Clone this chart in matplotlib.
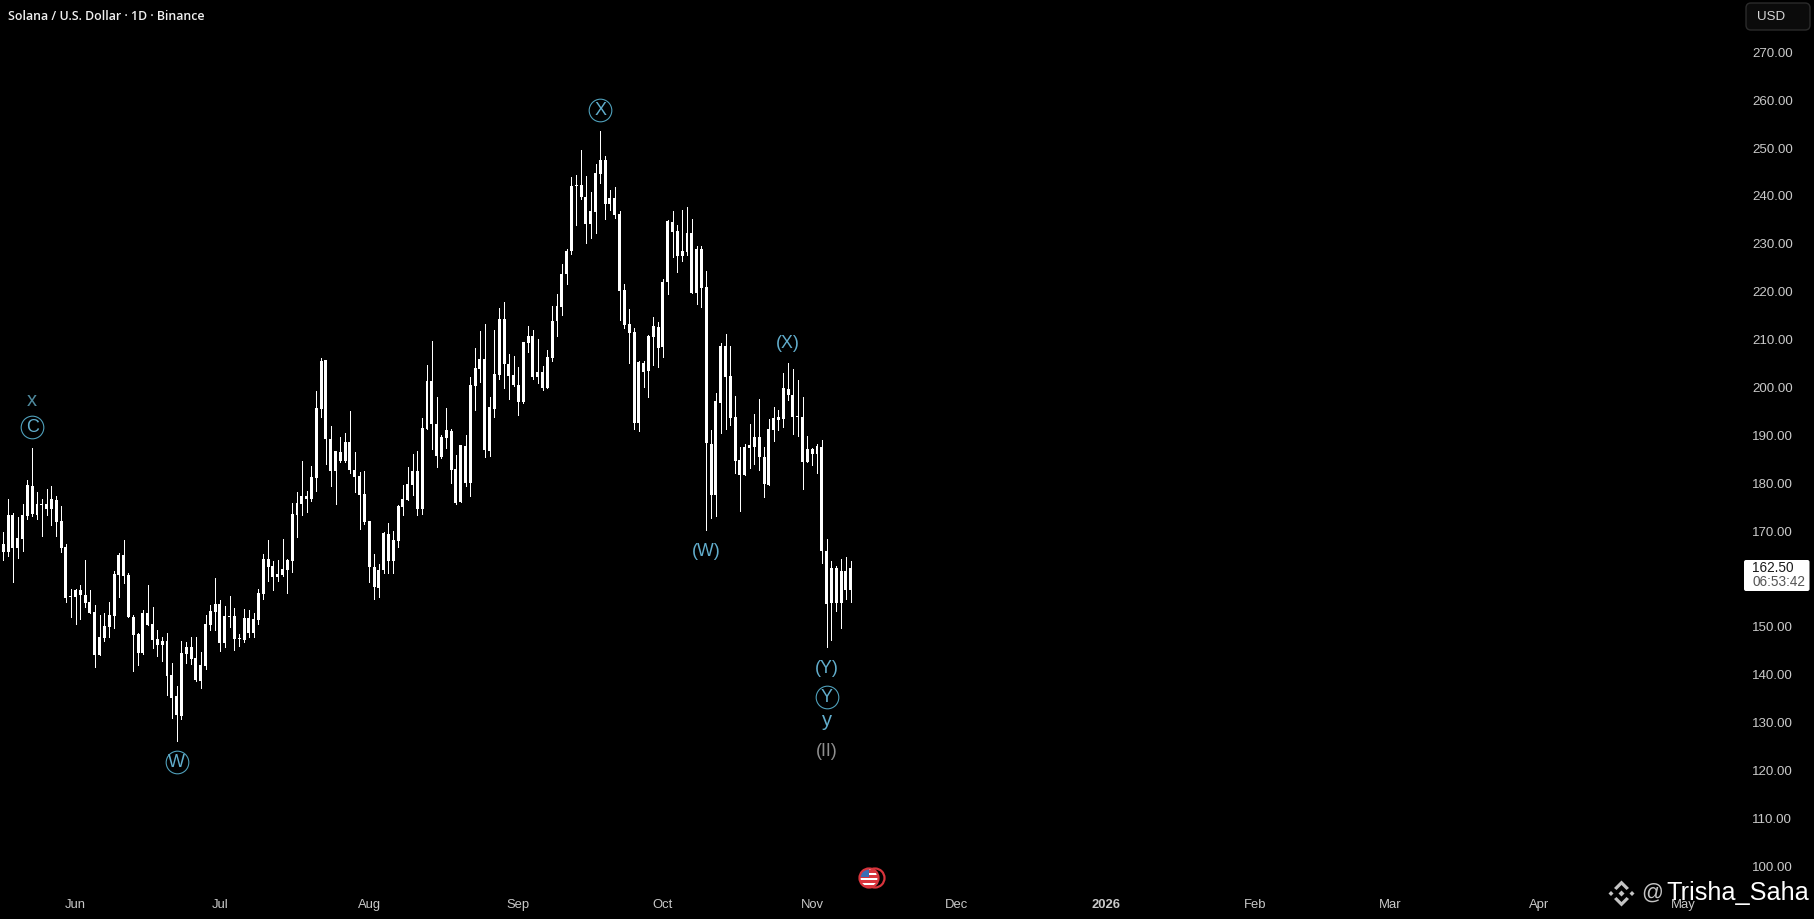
import matplotlib

matplotlib.use("Agg")
import matplotlib.pyplot as plt
import pandas as pd
from matplotlib.patches import Circle, FancyBboxPatch, Polygon, Rectangle

plt.rcParams["font.family"] = ["Liberation Sans", "DejaVu Sans"]

BG = "#000000"
WAVE = "#62aecd"
TICK_COLOR = "#c9c9c9"

FIRST_DAY = "2025-05-17"

highs = [
    169.8, 176.7, 173.8, 172.9, 175.7, 180.7, 187.4, 178.2, 176.7, 178.8, 179.4, 177.3, 175.2, 167.3, 157.9,
    157.9, 158.7, 164.0, 157.7, 154.6, 152.5, 152.9, 155.2, 161.7, 165.4, 168.1, 161.2, 152.5, 148.7, 153.5,
    158.7, 154.2, 149.4, 147.9, 148.7, 142.5, 137.6, 147.1, 146.8, 147.9, 147.9, 144.8, 152.5, 154.6, 160.2,
    155.6, 154.4, 156.4, 153.9, 148.5, 153.7, 153.5, 152.9, 157.9, 165.2, 168.1, 163.8, 164.0, 168.3, 164.2,
    175.9, 178.2, 184.7, 178.4, 183.6, 199.3, 206.2, 205.7, 192.0, 186.7, 189.7, 190.5, 195.1, 186.5, 182.4,
    182.6, 172.1, 165.2, 163.1, 169.8, 171.7, 170.0, 175.5, 179.6, 183.4, 186.1, 186.7, 193.6, 204.7, 209.7,
    198.0, 190.1, 195.7, 191.3, 185.9, 188.0, 190.1, 202.2, 208.2, 211.8, 213.3, 198.0, 212.0, 216.6, 217.9,
    207.0, 206.6, 204.3, 209.5, 212.8, 212.0, 210.1, 204.5, 207.8, 217.0, 219.5, 225.8, 228.9, 244.0, 244.4,
    249.6, 244.2, 240.8, 246.7, 253.6, 248.3, 241.3, 241.9, 236.9, 221.6, 216.4, 212.4, 205.5, 205.5, 211.0,
    214.7, 213.7, 222.7, 235.0, 236.9, 233.9, 237.1, 237.7, 235.2, 229.6, 229.6, 224.3, 191.1, 198.9, 209.3,
    211.2, 208.7, 198.2, 187.6, 188.2, 192.4, 194.5, 197.6, 187.6, 193.4, 196.0, 195.3, 203.0, 205.1, 203.9,
    201.6, 198.0, 189.9, 187.4, 188.2, 189.0, 168.4, 163.8, 162.7, 164.2, 164.6, 163.8,
]
body_tops = [
    167.3, 173.4, 173.4, 168.6, 173.4, 179.6, 179.4, 175.7, 175.7, 175.7, 176.7, 176.5, 172.1, 166.7, 156.4,
    157.7, 157.7, 156.7, 155.2, 153.1, 147.9, 150.2, 152.5, 161.0, 165.0, 165.0, 160.8, 152.1, 148.5, 152.9,
    152.9, 150.6, 147.5, 147.1, 147.1, 140.0, 135.6, 144.5, 145.8, 145.8, 143.5, 142.0, 150.6, 153.3, 154.8,
    154.8, 152.3, 152.3, 152.3, 147.7, 151.9, 151.9, 151.6, 157.1, 164.2, 164.2, 162.7, 161.0, 162.1, 164.0,
    173.6, 175.9, 177.3, 177.3, 181.3, 195.7, 205.5, 205.7, 189.2, 186.7, 186.5, 188.6, 188.6, 182.8, 181.5,
    177.8, 172.1, 162.5, 161.9, 169.6, 169.4, 168.2, 175.3, 176.7, 179.9, 182.6, 182.6, 191.5, 201.4, 201.4,
    192.4, 189.7, 191.1, 190.9, 183.0, 188.0, 187.8, 200.5, 204.1, 206.0, 206.0, 195.9, 202.8, 214.3, 214.3,
    204.9, 202.6, 200.5, 209.5, 210.8, 210.8, 203.2, 203.2, 206.4, 213.9, 217.0, 223.7, 228.5, 242.1, 242.3,
    242.3, 239.8, 236.9, 244.8, 247.5, 247.5, 239.6, 239.6, 236.2, 220.4, 213.3, 211.6, 205.3, 205.1, 210.8,
    212.9, 212.6, 222.0, 234.8, 234.6, 232.7, 228.5, 232.3, 232.3, 228.9, 228.9, 221.0, 188.2, 197.2, 208.7,
    208.7, 202.4, 193.9, 184.9, 187.6, 188.0, 189.7, 189.7, 185.5, 191.3, 193.6, 193.9, 199.9, 199.7, 198.4,
    194.1, 193.9, 187.2, 187.2, 187.8, 187.6, 165.9, 162.3, 162.3, 161.7, 161.7, 162.3,
]
body_bottoms = [
    165.6, 165.6, 166.5, 166.5, 168.3, 173.1, 173.6, 173.4, 175.5, 174.6, 174.6, 171.9, 166.5, 156.0, 156.2,
    156.2, 156.7, 155.0, 152.9, 144.1, 144.1, 147.7, 150.0, 152.3, 160.8, 160.6, 152.1, 148.3, 144.5, 144.5,
    150.4, 147.3, 146.2, 146.2, 139.7, 135.2, 131.6, 131.4, 144.3, 143.3, 138.9, 138.7, 141.8, 150.4, 153.1,
    146.6, 146.6, 152.1, 147.5, 147.5, 147.3, 148.7, 148.7, 151.4, 156.9, 162.5, 160.4, 160.4, 160.8, 161.9,
    163.8, 173.4, 175.7, 176.7, 176.7, 181.1, 195.5, 189.2, 182.6, 182.6, 184.7, 184.7, 182.8, 181.3, 177.6,
    171.9, 162.5, 158.3, 158.1, 161.9, 163.8, 163.8, 167.9, 175.0, 176.5, 179.6, 174.6, 174.6, 191.3, 192.4,
    185.7, 185.5, 189.5, 182.8, 175.9, 176.1, 180.1, 180.1, 200.3, 203.9, 187.0, 186.7, 195.5, 202.6, 204.9,
    202.4, 200.5, 197.0, 197.0, 209.3, 202.2, 202.2, 199.9, 199.9, 206.2, 213.9, 216.8, 223.7, 228.5, 242.1,
    239.8, 234.2, 234.2, 236.7, 244.6, 238.3, 238.3, 236.0, 220.2, 213.1, 211.4, 192.6, 192.6, 203.2, 203.5,
    210.6, 208.3, 208.5, 222.0, 232.5, 227.5, 227.5, 228.3, 219.7, 219.7, 220.8, 188.4, 177.6, 177.6, 196.8,
    202.2, 193.6, 184.7, 181.7, 181.7, 187.4, 187.6, 185.5, 179.9, 179.6, 191.1, 193.2, 193.4, 198.4, 193.9,
    193.9, 184.5, 184.5, 186.1, 186.1, 165.9, 154.8, 155.0, 155.0, 155.0, 157.7, 157.7,
]
lows = [
    164.0, 164.8, 159.4, 164.4, 165.8, 172.5, 173.1, 172.5, 169.0, 173.4, 171.3, 169.0, 165.6, 155.2, 152.1,
    150.6, 151.6, 154.2, 152.9, 141.6, 144.1, 147.1, 147.9, 149.8, 156.2, 159.2, 152.1, 140.8, 142.0, 144.3,
    150.4, 145.6, 143.9, 142.9, 135.8, 131.0, 126.2, 130.8, 142.5, 142.3, 138.7, 137.2, 141.2, 149.4, 149.4,
    145.0, 145.8, 150.0, 145.2, 146.0, 146.8, 147.9, 147.9, 150.6, 155.8, 159.6, 157.7, 159.6, 160.6, 157.1,
    161.5, 168.8, 173.4, 174.0, 176.3, 178.4, 193.8, 184.0, 179.4, 175.7, 184.4, 184.4, 182.2, 178.2, 170.5,
    171.5, 159.4, 155.8, 156.3, 161.3, 161.3, 161.3, 166.7, 173.4, 176.5, 177.6, 173.4, 173.6, 191.3, 187.2,
    183.4, 185.3, 187.4, 180.1, 175.7, 176.1, 179.4, 177.3, 195.3, 201.1, 185.5, 185.7, 193.8, 201.8, 199.9,
    197.6, 200.3, 194.3, 196.8, 207.4, 201.8, 201.0, 199.5, 199.9, 205.5, 210.8, 215.1, 221.6, 227.9, 233.9,
    239.4, 230.2, 231.2, 232.3, 242.7, 235.2, 237.1, 235.4, 214.1, 212.4, 205.1, 191.3, 190.9, 200.1, 198.0,
    204.7, 204.3, 206.4, 219.5, 227.2, 224.1, 226.4, 227.7, 219.7, 217.4, 216.8, 170.3, 172.8, 173.2, 190.5,
    191.3, 192.2, 182.2, 174.2, 181.7, 183.2, 184.0, 182.8, 177.1, 179.6, 188.8, 191.1, 191.8, 197.4, 190.3,
    189.9, 178.8, 184.5, 183.8, 182.2, 163.4, 145.8, 147.3, 153.3, 149.8, 155.8, 155.2,
]

# 160.00 sits under the live price tag in the reference
price_ticks = [100, 110, 120, 130, 140, 150, 170, 180, 190, 200, 210, 220, 230, 240, 250, 260, 270]

month_dates = ["2025-06-01", "2025-07-01", "2025-08-01", "2025-09-01", "2025-10-01", "2025-11-01",
               "2025-12-01", "2026-01-01", "2026-02-01", "2026-03-01", "2026-04-01", "2026-05-01"]
month_labels = ["Jun", "Jul", "Aug", "Sep", "Oct", "Nov", "Dec", "2026", "Feb", "Mar", "Apr", "May"]

# wave counts: label, candle index, price
plain_labels = ["x", "(X)", "(W)", "(Y)", "y"]
plain_days = [6, 163, 146, 171, 171]
plain_prices = [197.2, 209.2, 165.7, 141.2, 130.4]
circled_labels = ["C", "W", "X", "Y"]
circled_days = [6, 36, 124, 171]
circled_prices = [191.7, 121.7, 257.9, 135.3]
degree_label = "(II)"
degree_day = 171
degree_price = 123.9

W, H = 1815, 919
fig = plt.figure(figsize=(W / 100, H / 100), dpi=100, facecolor=BG)
ax = fig.add_axes([0, 31 / H, 1740 / W, 888 / H], facecolor=BG)

days = pd.date_range(FIRST_DAY, periods=len(highs))
tops = pd.Series(body_tops)
bottoms = pd.Series(body_bottoms)

ax.vlines(days, lows, highs, color="white", linewidth=0.72, antialiased=False)
ax.bar(days, tops - bottoms, bottom=bottoms, width=0.62, color="white", linewidth=0, antialiased=False)

ax.set_xlim(days[0] - pd.Timedelta(days=0.685), days[0] + pd.Timedelta(days=360.7))
ax.set_ylim(95.46, 280.92)

ax.yaxis.tick_right()
ax.set_yticks(price_ticks)
ax.set_yticklabels([f"{p:.2f}" for p in price_ticks], fontsize=9.6, color=TICK_COLOR)
ax.set_xticks(pd.to_datetime(month_dates))
ax.set_xticklabels(month_labels, fontsize=9.4, color=TICK_COLOR)
ax.get_xticklabels()[7].set_fontweight("bold")
ax.tick_params(axis="both", length=0)
ax.tick_params(axis="y", pad=8.8)
ax.tick_params(axis="x", pad=8)
for spine in ax.spines.values():
    spine.set_visible(False)

for label, day, price in zip(plain_labels, plain_days, plain_prices):
    small = label in ("x", "y")
    ax.text(days[day], price, label, color="#4f8a9e" if label == "x" else WAVE, fontsize=14.5 if small else 12.8,
            ha="center", va="center")
for label, day, price in zip(circled_labels, circled_days, circled_prices):
    ax.plot(days[day], price, "o", ms=16.3, mfc="none", mec="#4f9fba", mew=0.8)
    ax.text(days[day], price, label, color=WAVE, fontsize=13, ha="center", va="center")
ax.text(days[degree_day], degree_price, degree_label, color="#8f8f8f", fontsize=12.8, ha="center", va="center")

# overlay in pixel coordinates for the chart furniture
over = fig.add_axes([0, 0, 1, 1], facecolor="none")
over.set_xlim(0, W)
over.set_ylim(H, 0)
over.axis("off")

over.text(8, 16, "Solana / U.S. Dollar · 1D · Binance", color="#f0f0f0", fontsize=8.9,
          family=["Open Sans", "DejaVu Sans"], fontweight="semibold", va="center")

over.add_patch(FancyBboxPatch((1749, 6), 58, 21, boxstyle="round,pad=3,rounding_size=5",
                              fc="#0b0b0b", ec="#2b2b2b", lw=1))
over.text(1757, 16.5, "USD", color="#d6d6d6", fontsize=9.6, va="center")

over.add_patch(FancyBboxPatch((1745, 561), 63.5, 29, boxstyle="round,pad=1,rounding_size=2",
                              fc="white", ec="none"))
over.text(1752.5, 568.5, "162.50", color="#1a1a1a", fontsize=9.8, va="center")
over.text(1752.5, 582.5, "06:53:42", color="#555555", fontsize=9.8, va="center")

# event flag
back = Circle((875, 878), 9.5, fc=BG, ec="#d8343c", lw=1.6)
over.add_patch(back)
front = Circle((869, 878), 9.5, fc="white", ec="none")
over.add_patch(front)
for y_top in [870, 875, 880, 885]:
    stripe = Rectangle((859, y_top), 20, 2.5, fc="#d8343c", ec="none")
    over.add_patch(stripe)
    stripe.set_clip_path(front)
canton = Rectangle((859, 868), 10, 9, fc="#3a6fb5", ec="none")
over.add_patch(canton)
canton.set_clip_path(front)
over.add_patch(Circle((869, 878), 9.5, fc="none", ec="#d8343c", lw=1.6))

# watermark
logo = "#c4c4c4"
cx, cy = 1621.5, 893.5
over.add_patch(Polygon([(cx - 3, cy), (cx, cy - 3), (cx + 3, cy), (cx, cy + 3)], fc=logo, ec="none"))
over.add_patch(Polygon([(cx - 13, cy), (cx - 10.5, cy - 2.5), (cx - 8, cy), (cx - 10.5, cy + 2.5)], fc=logo, ec="none"))
over.add_patch(Polygon([(cx + 13, cy), (cx + 10.5, cy - 2.5), (cx + 8, cy), (cx + 10.5, cy + 2.5)], fc=logo, ec="none"))
over.add_patch(Polygon([(cx, cy - 13), (cx + 7.5, cy - 5.5), (cx + 5, cy - 3.5), (cx, cy - 8.5),
                        (cx - 5, cy - 3.5), (cx - 7.5, cy - 5.5)], fc=logo, ec="none"))
over.add_patch(Polygon([(cx, cy + 13), (cx + 7.5, cy + 5.5), (cx + 5, cy + 3.5), (cx, cy + 8.5),
                        (cx - 5, cy + 3.5), (cx - 7.5, cy + 5.5)], fc=logo, ec="none"))
over.text(1641, 893, "@", color=logo, fontsize=15.5, va="center")
over.text(1666, 893, "Trisha_Saha", color="white", fontsize=18.2, va="center")

fig.savefig("out.png", dpi=100, facecolor=BG)
plt.close(fig)
